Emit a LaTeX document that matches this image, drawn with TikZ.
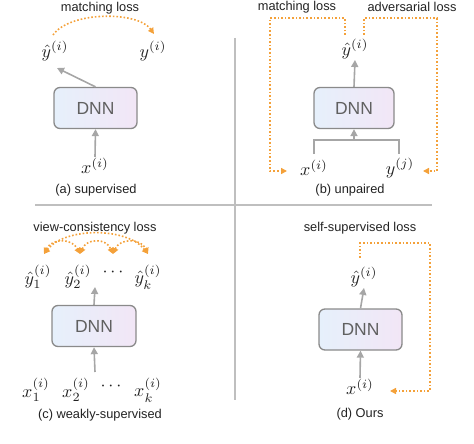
\documentclass[tikz,border=0pt]{standalone}
\usepackage{graphicx}
\usepackage{fontspec}
\setmainfont{Liberation Sans}
\usetikzlibrary{arrows.meta}
\newcommand{\mlbl}[1]{\scalebox{1.8}{$#1$}}
\definecolor{lossor}{HTML}{F4A13A}
\definecolor{arrgray}{HTML}{A6A6A6}
\definecolor{boxgray}{HTML}{8A8A8A}
\definecolor{dnntxt}{HTML}{606060}
\definecolor{boxl}{HTML}{E6F0FB}
\definecolor{boxr}{HTML}{F2E6F6}
\definecolor{txt}{HTML}{222222}
\definecolor{divgray}{HTML}{BFBFBF}
\tikzset{
  dnnbox/.style={draw=boxgray, line width=1.3pt, rounded corners=6pt, left color=boxl, right color=boxr,
    minimum width=#1, minimum height=41pt, inner sep=0pt, text=dnntxt, font=\fontsize{17.5}{20}\selectfont},
  dnnbox/.default=83pt,
  lbl/.style={inner sep=0pt, text=txt, font=\fontsize{12.8}{14}\selectfont},
  mth/.style={inner sep=1pt, text=txt},
  garrow/.style={draw=arrgray, line width=1.6pt, -{Triangle[length=7pt,width=7pt]}},
  gline/.style={draw=arrgray, line width=1.6pt},
  oloss/.style={draw=lossor, line width=1.6pt, dotted},
  otip/.style={-{Triangle[length=6pt,width=6pt]}},
  obtip/.style={{Triangle[length=6pt,width=6pt]}-{Triangle[length=6pt,width=6pt]}},
  divline/.style={draw=divgray, line width=1.2pt},
}
\begin{document}
\begin{tikzpicture}[x=1pt,y=-1pt]
\useasboundingbox (0,0) rectangle (474,444);
% dividers
\coordinate (vt) at (235,38); \coordinate (vb) at (235,400);
\coordinate (hl) at (35,205); \coordinate (hr) at (432,205);
\draw[divline] (vt) -- (vb);
\draw[divline] (hl) -- (hr);

% ---------- (a) ----------
\node[lbl] (lossA) at (100,8) {matching loss};
\node[mth] (yhatA) at (55,51) {\mlbl{\hat{y}^{(i)}}};
\node[mth] (yA) at (153,51) {\mlbl{y^{(i)}}};
\node[dnnbox] (dnnA) at (95.5,108) {DNN};
\node[mth] (xA) at (95,166) {\mlbl{x^{(i)}}};
\node[lbl] (capA) at (96,190) {(a) supervised};
\coordinate (aS) at (53,35); \coordinate (aE) at (154,34);
\draw[oloss,otip] (aS) .. controls (70,11) and (138,11) .. (aE);
\coordinate (aT) at (57,68);
\draw[garrow] (dnnA.north) -- (aT);
\draw[garrow] (xA.north) -- (dnnA.south);

% ---------- (b) ----------
\node[lbl] (lossB1) at (297,7) {matching loss};
\node[lbl] (lossB2) at (412,7) {adversarial loss};
\node[mth] (yhatB) at (355,49) {\mlbl{\hat{y}^{(i)}}};
\node[dnnbox=80pt] (dnnB) at (354,108) {DNN};
\node[mth] (xB) at (314,168) {\mlbl{x^{(i)}}};
\node[mth] (yB) at (400,168) {\mlbl{y^{(j)}}};
\node[lbl] (capB) at (350,190) {(b) unpaired};
\draw[garrow] (dnnB.north) -- (yhatB.south);
\coordinate (bj) at (354,140);
\coordinate (bl) at (314,140); \coordinate (br) at (399,140);
\coordinate (blb) at (314,154); \coordinate (brb) at (399,154);
\draw[gline] (blb) -- (bl) -- (br) -- (brb);
\draw[garrow] (bj) -- (dnnB.south);
\coordinate (b1a) at (345,35); \coordinate (b1b) at (345,18); \coordinate (b1c) at (270,18);
\coordinate (b1d) at (270,171); \coordinate (b1e) at (287,171);
\draw[oloss,otip] (b1a) -- (b1b) -- (b1c) -- (b1d) -- (b1e);
\coordinate (b2a) at (364,35); \coordinate (b2b) at (364,18); \coordinate (b2c) at (437,18);
\coordinate (b2d) at (437,171); \coordinate (b2e) at (423,171);
\draw[oloss,otip] (b2a) -- (b2b) -- (b2c) -- (b2d) -- (b2e);

% ---------- (c) ----------
\node[lbl] (lossC) at (95,228) {view-consistency loss};
\node[mth] (yh1) at (38,277) {\mlbl{\hat{y}_1^{(i)}}};
\node[mth] (yh2) at (78,277) {\mlbl{\hat{y}_2^{(i)}}};
\node[mth] (ydots) at (113,272) {\mlbl{\cdots}};
\node[mth] (yhk) at (148,277) {\mlbl{\hat{y}_k^{(i)}}};
\node[dnnbox=84pt] (dnnC) at (94,326) {DNN};
\node[mth] (x1) at (36,390) {\mlbl{x_1^{(i)}}};
\node[mth] (x2) at (76,390) {\mlbl{x_2^{(i)}}};
\node[mth] (xdots) at (111,386) {\mlbl{\cdots}};
\node[mth] (xk) at (148,390) {\mlbl{x_k^{(i)}}};
\node[lbl] (capC) at (100,415) {(c) weakly-supervised};
\coordinate (c1) at (44,254); \coordinate (c2) at (80,254);
\coordinate (c3) at (113,254); \coordinate (c4) at (148,254);
\draw[oloss,obtip] (c1) .. controls (65,227) and (127,227) .. (c4);
\draw[oloss,obtip] (c1) .. controls (52,238) and (72,238) .. (c2);
\draw[oloss,obtip] (c2) .. controls (87,238) and (106,238) .. (c3);
\draw[oloss,obtip] (c3) .. controls (120,238) and (141,238) .. (c4);
\coordinate (cT) at (95,287); \coordinate (cB) at (95,372);
\draw[garrow] (dnnC.north) -- (cT);
\draw[garrow] (cB) -- (dnnC.south);

% ---------- (d) ----------
\node[lbl] (lossD) at (360,228) {self-supervised loss};
\node[mth] (yhatD) at (364,277) {\mlbl{\hat{y}^{(i)}}};
\node[dnnbox] (dnnD) at (360.5,329.5) {DNN};
\node[mth] (xD) at (360,387) {\mlbl{x^{(i)}}};
\node[lbl] (capD) at (360,414) {(d) Ours};
\draw[garrow] (dnnD.north) -- (yhatD.south);
\draw[garrow] (xD.north) -- (dnnD.south);
\coordinate (d1) at (360,258); \coordinate (d2) at (360,243); \coordinate (d3) at (430,243);
\coordinate (d4) at (430,391); \coordinate (d5) at (390,391);
\draw[oloss,otip] (d1) -- (d2) -- (d3) -- (d4) -- (d5);
\end{tikzpicture}
\end{document}
